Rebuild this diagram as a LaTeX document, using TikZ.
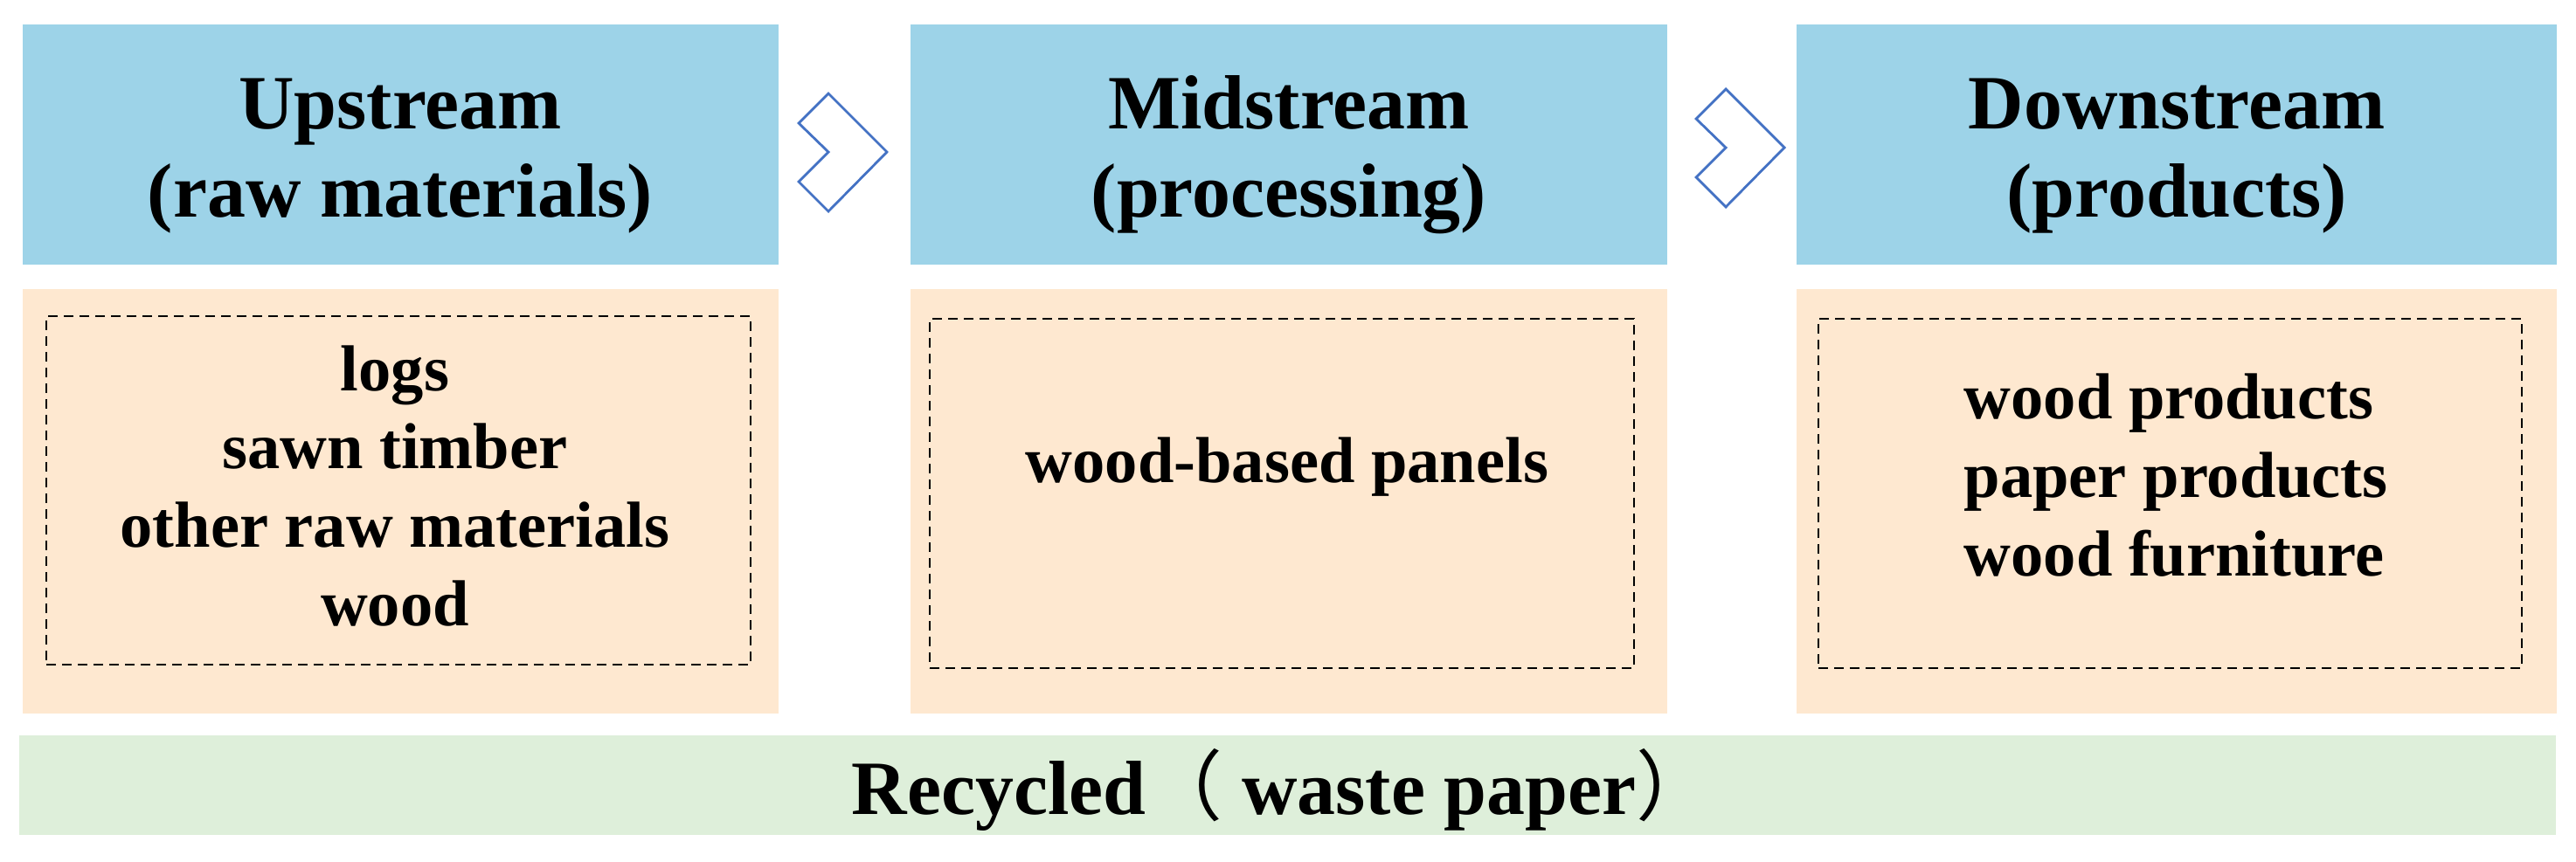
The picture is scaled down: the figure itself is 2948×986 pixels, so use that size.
\documentclass[tikz,border=0pt]{standalone}
\usepackage{fontspec}
\setmainfont{Liberation Serif}
\newfontfamily\cjk{Noto Sans CJK SC}
\definecolor{hdrblue}{HTML}{9DD3E8}
\definecolor{bodyorange}{HTML}{FEE8D0}
\definecolor{recgreen}{HTML}{DEEFDA}
\definecolor{chevblue}{HTML}{4472C4}
\begin{document}
\begin{tikzpicture}[x=0.1mm,y=-0.1mm,
  box/.style={draw=none, inner sep=0pt, outer sep=0pt, anchor=north west},
  hdrbox/.style={box, fill=hdrblue, minimum height=27.5mm},
  bodybox/.style={box, fill=bodyorange, minimum height=48.6mm},
  dashbox/.style={box, draw=black, line width=0.28mm, dash pattern=on 1.1mm off 0.7mm, minimum width=80.6mm, minimum height=40mm},
  hdrtext/.style={inner sep=0pt, anchor=base, align=center, font=\fontsize{25pt}{28.7pt}\selectfont\bfseries},
  bodytext/.style={inner sep=0pt, anchor=base, align=center, font=\fontsize{21.2pt}{25.5pt}\selectfont\bfseries},
  chev/.style={draw=chevblue, line width=0.28mm, line join=miter}
]
\useasboundingbox (0,0) rectangle (2948,986);
\fill[white] (0,0) rectangle (2948,986);

% header boxes
\node[hdrbox, minimum width=86.5mm] (h1) at (26,28) {};
\node[hdrbox, minimum width=86.6mm] (h2) at (1042,28) {};
\node[hdrbox, minimum width=87.0mm] (h3) at (2056,28) {};

% body boxes
\node[bodybox, minimum width=86.5mm] (b1) at (26,331) {};
\node[bodybox, minimum width=86.6mm] (b2) at (1042,331) {};
\node[bodybox, minimum width=87.0mm] (b3) at (2056,331) {};

% dashed inner boxes
\node[dashbox, minimum height=39.9mm] (d1) at (53,362) {};
\node[dashbox] (d2) at (1064,365) {};
\node[dashbox, minimum width=80.5mm] (d3) at (2081,365) {};

% recycled bar
\node[box, fill=recgreen, minimum width=290.3mm, minimum height=11.4mm] (g) at (22,842) {};

% chevrons
\draw[chev] (948,107) -- (1015,174) -- (948,242) -- (914,208) -- (948,174) -- (914,141) -- cycle;
\draw[chev] (1975,102) -- (2042,169) -- (1975,237) -- (1941,203) -- (1975,169) -- (1941,136) -- cycle;

% header texts (anchor base = last line baseline)
\node[hdrtext] (t1) at (458,248) {Upstream\\(raw materials)};
\node[hdrtext] (t2) at (1475,248) {Midstream\\(processing)};
\node[hdrtext] (t3) at (2491,248) {Downstream\\(products)};

% body texts
\node[bodytext] (c1) at (452,716) {logs\\sawn timber\\other raw materials\\wood};
\node[bodytext] (c2) at (1473,552) {wood-based panels};
\node[bodytext, align=left, anchor=base west] (c3) at (2247,659) {wood products\\paper products\\wood furniture};

% recycled text
\node[inner sep=0pt, anchor=base west, font=\fontsize{25pt}{28.7pt}\selectfont\bfseries] (r) at (974,932) {Recycled{\cjk\mdseries （} waste paper{\cjk\mdseries ）}};
\end{tikzpicture}
\end{document}
